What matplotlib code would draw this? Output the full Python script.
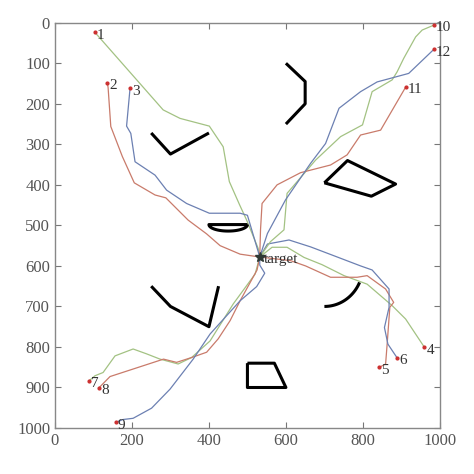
import numpy as np
import matplotlib
matplotlib.use("Agg")
import matplotlib.pyplot as plt

plt.rcParams['font.family'] = ['Liberation Serif', 'DejaVu Serif']

# target point
target = (532, 578)

# trajectories (x, y), grouped by start corner
p1_x = [104, 281, 325, 401, 437, 453, 480, 498, 528, 532]
p1_y = [24, 215, 236, 255, 306, 392, 450, 487, 557, 578]
p2_x = [136, 138, 145, 175, 206, 260, 288, 346, 394, 429, 481, 532]
p2_y = [148, 160, 256, 330, 395, 425, 432, 487, 521, 550, 571, 578]
p3_x = [195, 186, 197, 208, 260, 290, 342, 401, 481, 500, 528, 532]
p3_y = [162, 255, 273, 343, 376, 413, 446, 470, 470, 475, 565, 578]

p4_x = [960, 911, 876, 811, 751, 694, 647, 603, 564, 532]
p4_y = [801, 731, 698, 645, 624, 597, 579, 554, 554, 578]
p5_x = [843, 859, 863, 870, 880, 859, 811, 785, 716, 651, 612, 532]
p5_y = [850, 842, 793, 702, 690, 657, 624, 628, 628, 600, 587, 578]
p6_x = [889, 865, 856, 868, 868, 824, 794, 725, 664, 608, 552, 532]
p6_y = [827, 793, 752, 702, 657, 610, 600, 575, 553, 536, 546, 578]

p7_x = [89, 104, 125, 156, 203, 238, 273, 320, 355, 403, 463, 520, 532]
p7_y = [883, 871, 863, 822, 805, 817, 830, 842, 826, 785, 694, 620, 578]
p8_x = [114, 143, 282, 316, 355, 394, 424, 455, 481, 525, 532]
p8_y = [901, 873, 830, 838, 826, 813, 780, 735, 686, 610, 578]
p9_x = [158, 177, 203, 251, 299, 359, 403, 481, 524, 545, 532, 532]
p9_y = [986, 979, 976, 951, 904, 830, 768, 686, 651, 618, 598, 578]

p10_x = [984, 954, 937, 906, 889, 876, 824, 799, 742, 677, 603, 595, 560, 532]
p10_y = [6, 18, 35, 88, 121, 141, 170, 252, 281, 339, 421, 511, 540, 578]
p11_x = [911, 846, 794, 759, 716, 638, 577, 538, 534, 532]
p11_y = [159, 265, 277, 326, 351, 370, 400, 446, 511, 578]
p12_x = [984, 919, 837, 794, 738, 703, 664, 599, 552, 532]
p12_y = [66, 125, 146, 170, 211, 298, 347, 437, 520, 578]

paths = [(p1_x, p1_y), (p2_x, p2_y), (p3_x, p3_y), (p4_x, p4_y),
         (p5_x, p5_y), (p6_x, p6_y), (p7_x, p7_y), (p8_x, p8_y),
         (p9_x, p9_y), (p10_x, p10_y), (p11_x, p11_y), (p12_x, p12_y)]
path_labels = ['1', '2', '3', '4', '5', '6', '7', '8', '9', '10', '11', '12']
path_colors = ['#a3c283', '#c97b6b', '#6c80b2'] * 4

# obstacles
obs_v1_x = [250, 300, 400]
obs_v1_y = [272, 324, 272]
obs_br_x = [600, 650, 650, 600]
obs_br_y = [100, 145, 200, 250]
obs_quad_x = [700, 760, 885, 822, 700]
obs_quad_y = [395, 340, 398, 428, 395]
obs_v2_x = [250, 300, 400, 425]
obs_v2_y = [650, 700, 750, 650]
obs_trap_x = [500, 570, 600, 500, 500]
obs_trap_y = [840, 840, 900, 900, 840]
# half ellipse (center, half width, half height) and arc (center, radius, angles)
half_ell = (450, 498, 50, 16)
arc = (700, 600, 100, 24, 90)

fig = plt.figure(figsize=(4.74, 4.74), dpi=100)
ax = fig.add_axes([0.116, 0.097, 0.812, 0.855])

for (xs, ys), c in zip(paths, path_colors):
    ax.plot(xs, ys, color=c, linewidth=0.9, zorder=2)

for (xs, ys), lab in zip(paths, path_labels):
    ax.plot(xs[0], ys[0], 'o', color='#cc3030', markersize=2, zorder=4)
    ax.annotate(lab, (xs[0], ys[0]), xytext=(1.5, -2), textcoords='offset points',
                ha='left', va='center', fontsize=11, color='#333333',
                annotation_clip=False, zorder=5)

obs_kw = dict(color='black', linewidth=2.2, solid_capstyle='butt', zorder=3)
ax.plot(obs_v1_x, obs_v1_y, **obs_kw)
ax.plot(obs_br_x, obs_br_y, **obs_kw)
ax.plot(obs_quad_x, obs_quad_y, **obs_kw)
ax.plot(obs_v2_x, obs_v2_y, **obs_kw)
ax.plot(obs_trap_x, obs_trap_y, **obs_kw)

cx, cy, a, b = half_ell
t = np.linspace(0, np.pi, 60)
ax.plot(np.r_[cx + a * np.cos(t), cx + a], np.r_[cy + b * np.sin(t), cy], **obs_kw)

ax_, ay_, r, t0, t1 = arc
t = np.radians(np.linspace(t0, t1, 60))
ax.plot(ax_ + r * np.cos(t), ay_ + r * np.sin(t), **obs_kw)

ax.plot(*target, marker='*', color='#2f3a35', markersize=7, zorder=5)
ax.annotate('target', target, xytext=(3, -1.5), textcoords='offset points',
            ha='left', va='center', fontsize=11, color='#333333', zorder=5)

ax.set_xlim(0, 1000)
ax.set_ylim(1000, 0)
ax.set_xticks(np.arange(0, 1001, 200))
ax.set_yticks(np.arange(0, 1001, 100))
ax.tick_params(direction='in', length=4, width=0.8, colors='#777777',
               labelcolor='#555555', labelsize=12, top=True, right=True)
for s in ax.spines.values():
    s.set_color('#888888')
    s.set_linewidth(1.0)

fig.savefig('out.png', dpi=100)
